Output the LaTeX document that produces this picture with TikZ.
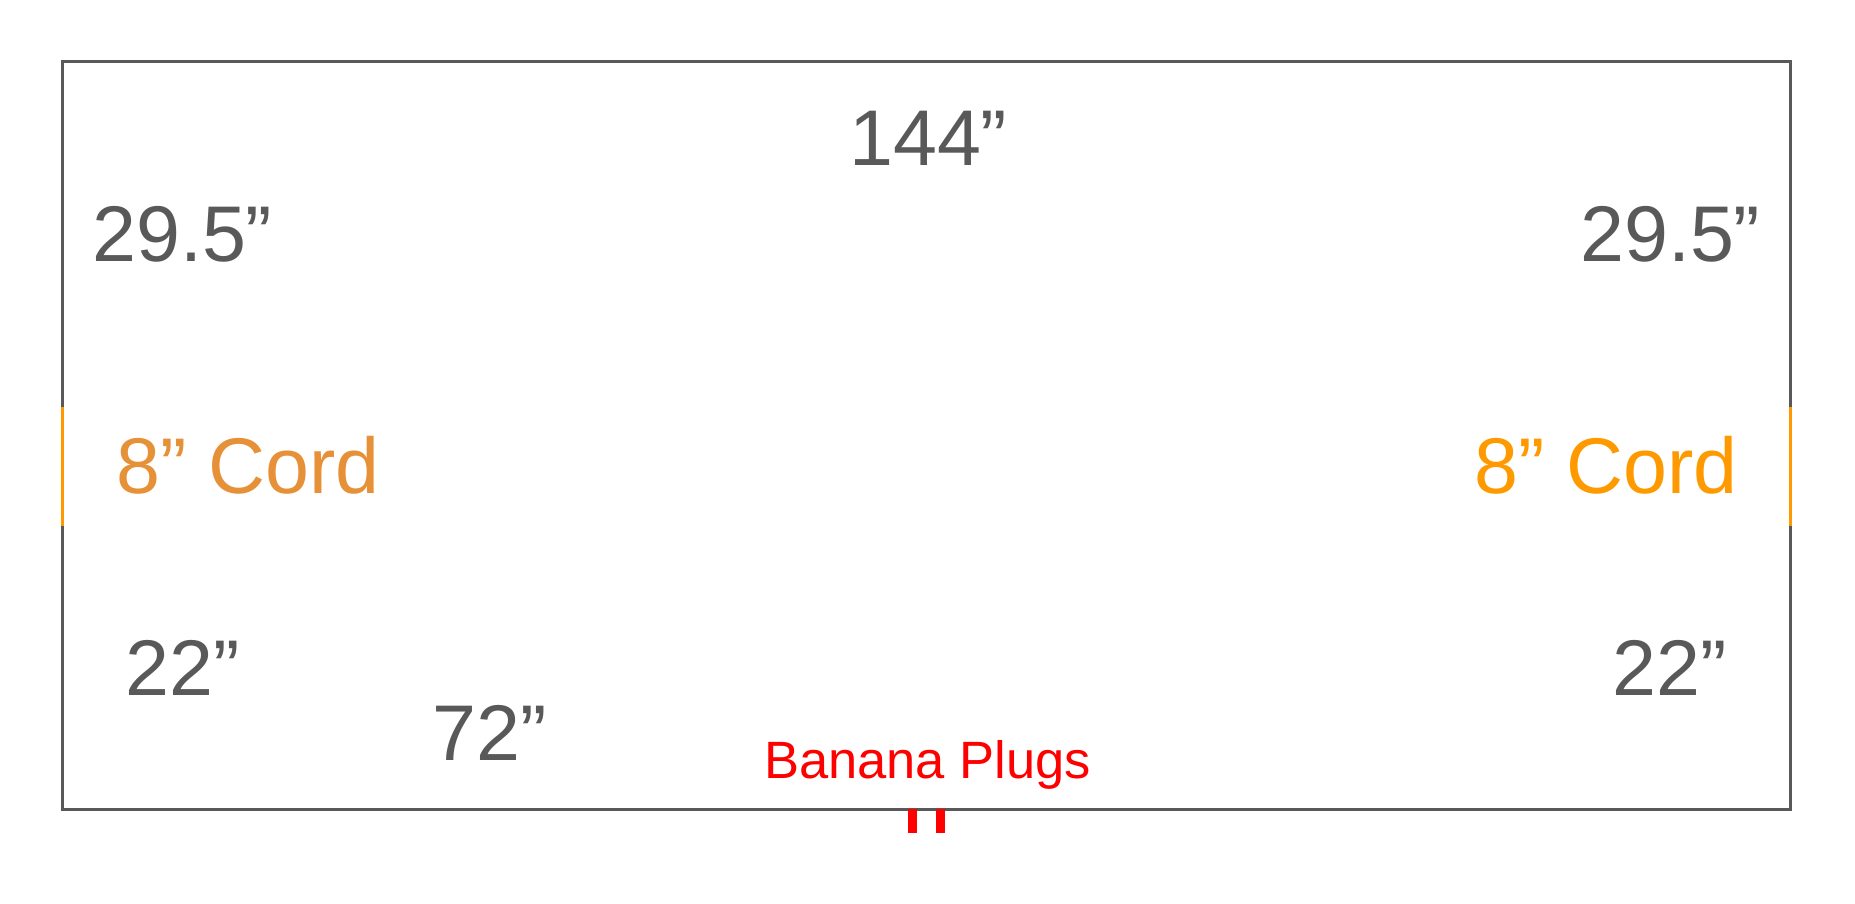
\documentclass[tikz,border=0pt]{standalone}
\usepackage{fontspec}
\setmainfont{Liberation Sans}
\definecolor{dimgray}{HTML}{595959}
\definecolor{cordorange}{HTML}{FF9900}
\definecolor{cordtext}{HTML}{E69138}
\definecolor{plugred}{HTML}{FF0000}

\begin{document}
\begin{tikzpicture}[x=1pt, y=-1pt]
    \tikzset{dimlabel/.style={anchor=base west, inner sep=0pt,
            text=dimgray, font=\fontsize{79}{79}\selectfont},
        cordlabel/.style={dimlabel, text=cordorange},
        cordseg/.style={draw=cordorange, line width=3pt},
        plugpin/.style={draw=plugred, line width=9pt}
    }
    \useasboundingbox (0,0) rectangle (1855,904);
    % frame
    \coordinate (nw) at (62,62);
    \coordinate (se) at (1790,809);
    \draw[dimgray, line width=3pt] (nw) rectangle (se);
    % measurements
    \foreach \name/\x/\y/\txt in
        {top/849/166/144, ltop/92/261/29.5, rtop/1580/261/29.5,
         lbot/125/695/22, rbot/1612/695/22, bot/432/760/72} {
        \node[dimlabel] (\name) at (\x,\y) {\txt”};
    }
    % cords
    \draw[cordseg] (62,407) coordinate (lcordA) -- (62,526) coordinate (lcordB);
    \draw[cordseg] (1790,407) coordinate (rcordA) -- (1790,526) coordinate (rcordB);
    \node[cordlabel, text=cordtext] (lcord) at (116,493) {8” Cord};
    \node[cordlabel] (rcord) at (1474,493) {8” Cord};
    % plugs
    \foreach \x in {912.5, 940.5} {
        \draw[plugpin] (\x,809) -- (\x,833);
    }
    \node[anchor=base west, inner sep=0pt, text=plugred,
        font=\fontsize{52.5}{52.5}\selectfont] (plugs) at (764,778) {Banana Plugs};
\end{tikzpicture}
\end{document}
